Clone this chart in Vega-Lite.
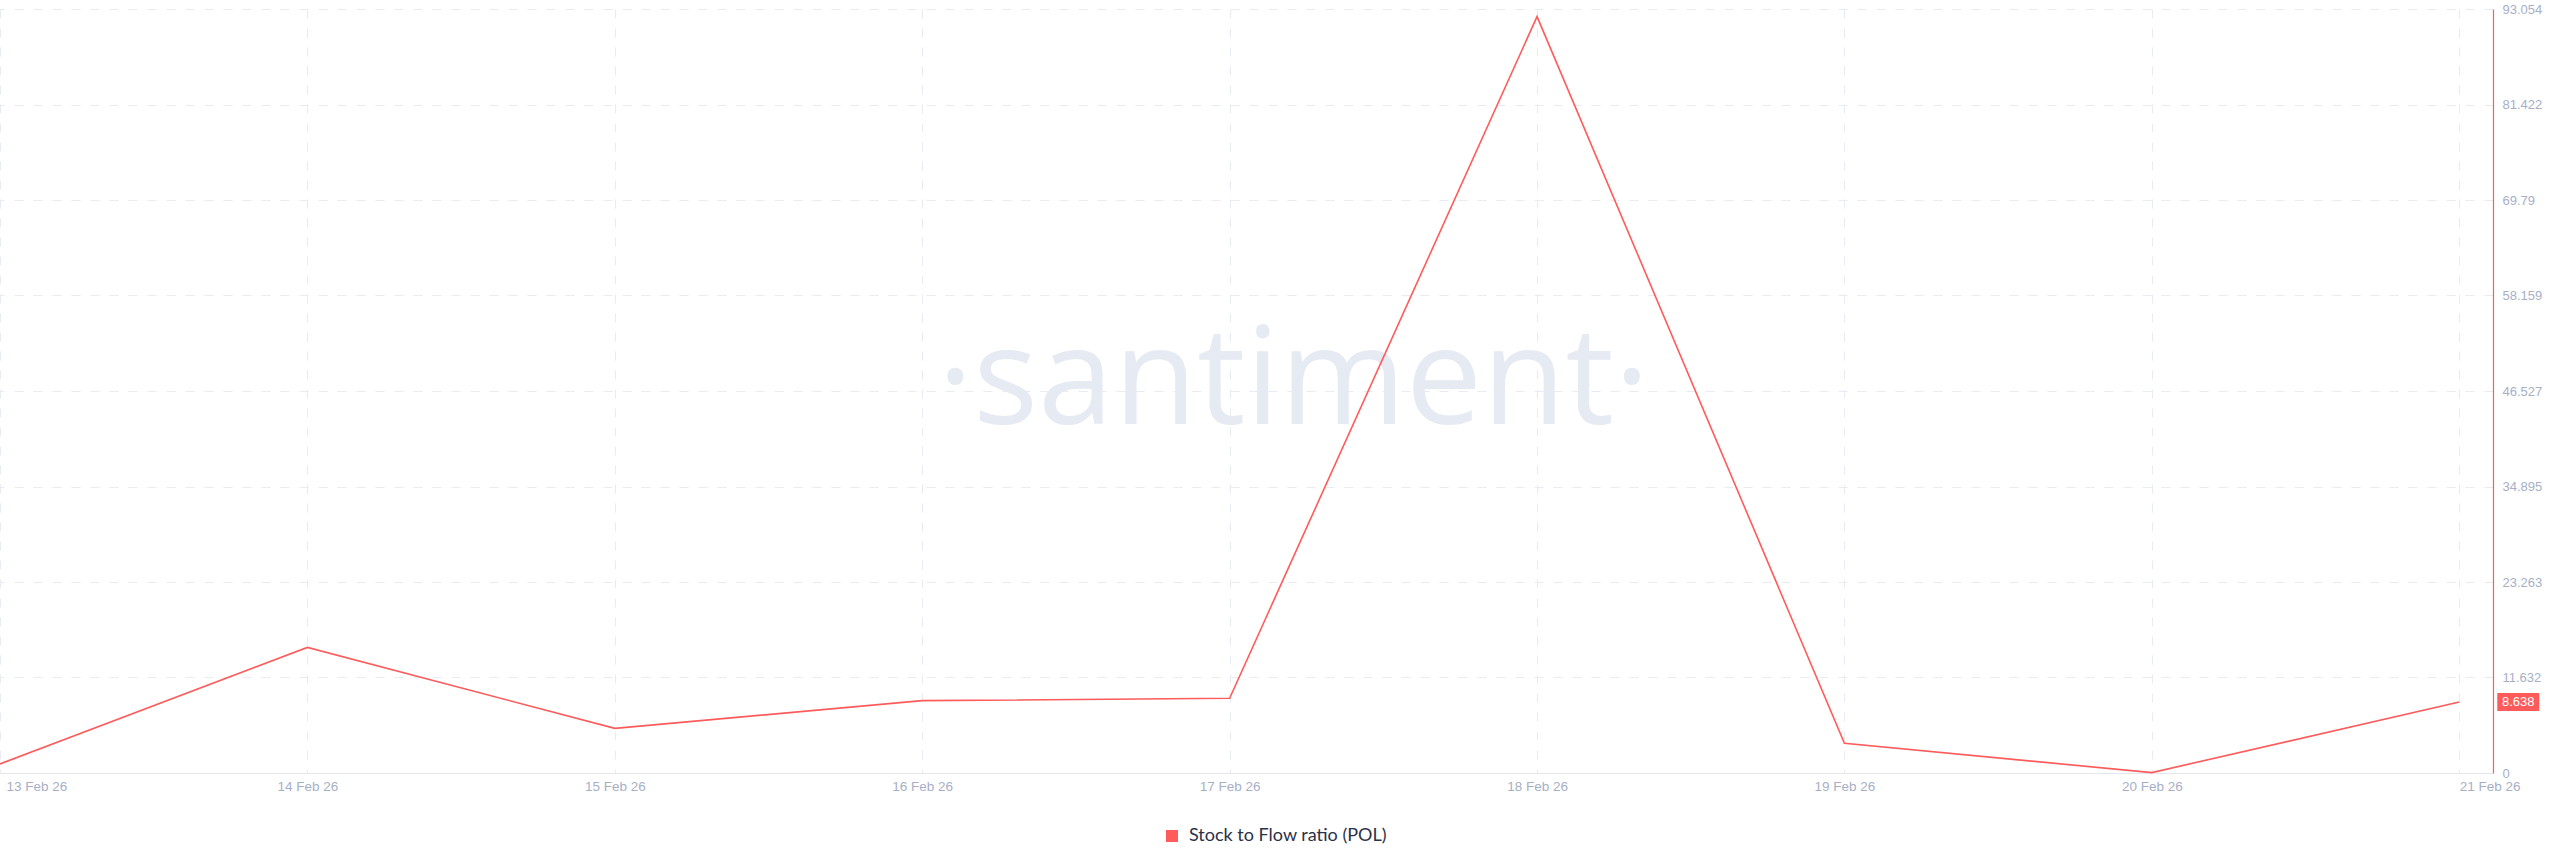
{
  "$schema": "https://vega.github.io/schema/vega-lite/v6.json",
  "width": 2493,
  "height": 764,
  "autosize": {"type": "none"},
  "padding": {"left": 0, "top": 9, "right": 67, "bottom": 94},
  "background": "#ffffff",
  "config": {"view": {"stroke": null}},
  "datasets": {
    "sf": [
      {"date": "2026-02-13", "value": 1.1, "series": "Stock to Flow ratio (POL)"},
      {"date": "2026-02-14", "value": 15.3, "series": "Stock to Flow ratio (POL)"},
      {"date": "2026-02-15", "value": 5.44, "series": "Stock to Flow ratio (POL)"},
      {"date": "2026-02-16", "value": 8.81, "series": "Stock to Flow ratio (POL)"},
      {"date": "2026-02-17", "value": 9.1, "series": "Stock to Flow ratio (POL)"},
      {"date": "2026-02-18", "value": 92.13, "series": "Stock to Flow ratio (POL)"},
      {"date": "2026-02-19", "value": 3.62, "series": "Stock to Flow ratio (POL)"},
      {"date": "2026-02-20", "value": 0.05, "series": "Stock to Flow ratio (POL)"},
      {"date": "2026-02-21", "value": 8.638, "series": "Stock to Flow ratio (POL)"}
    ],
    "wm": [{"text": "·santiment·"}]
  },
  "layer": [
    {
      "data": {"name": "wm"},
      "mark": {"type": "text", "font": "Open Sans", "fontSize": 136, "color": "#e6eaf3", "align": "center", "baseline": "alphabetic"},
      "encoding": {
        "x": {"datum": {"year": 2026, "month": 2, "date": 17, "hours": 5, "utc": true}, "type": "temporal"},
        "y": {"datum": 42.5, "type": "quantitative"},
        "text": {"field": "text"}
      }
    },
    {
      "data": {"name": "sf"},
      "mark": {"type": "line", "strokeWidth": 1.6, "clip": false},
      "encoding": {
        "x": {
          "field": "date", "type": "temporal",
          "scale": {"type": "utc", "domain": [{"year": 2026, "month": 2, "date": 13, "utc": true}, {"year": 2026, "month": 2, "date": 21, "hours": 2, "minutes": 38, "utc": true}]},
          "axis": {
            "title": null,
            "format": "%d %b %y",
            "values": [
              {"year": 2026, "month": 2, "date": 13, "utc": true},
              {"year": 2026, "month": 2, "date": 14, "utc": true},
              {"year": 2026, "month": 2, "date": 15, "utc": true},
              {"year": 2026, "month": 2, "date": 16, "utc": true},
              {"year": 2026, "month": 2, "date": 17, "utc": true},
              {"year": 2026, "month": 2, "date": 18, "utc": true},
              {"year": 2026, "month": 2, "date": 19, "utc": true},
              {"year": 2026, "month": 2, "date": 20, "utc": true},
              {"year": 2026, "month": 2, "date": 21, "utc": true}
            ],
            "grid": true, "gridColor": "#e9ebf2", "gridDash": [9, 10], "gridWidth": 1,
            "ticks": false,
            "domainColor": "#e3e6ee", "domainWidth": 1,
            "labelColor": "#a7afc7", "labelFont": "Liberation Sans", "labelFontSize": 13.5,
            "labelPadding": 6, "labelFlush": false, "labelOverlap": false,
            "labelAlign": {"condition": {"test": "datum.index == 0 || datum.index == 1", "value": "left"}, "value": "center"},
            "labelOffset": {"condition": {"test": "datum.index == 0", "value": 6}, "value": 0}
          }
        },
        "y": {
          "field": "value", "type": "quantitative",
          "scale": {"domain": [0, 93.054], "nice": false},
          "axis": {
            "title": null, "orient": "right",
            "values": [0, 11.632, 23.263, 34.895, 46.527, 58.159, 69.79, 81.422, 93.054],
            "labelExpr": "toString(datum.value)",
            "grid": true, "gridColor": "#e9ebf2", "gridDash": [9, 10], "gridWidth": 1,
            "ticks": false,
            "domainColor": "#ff5b5b", "domainWidth": 1.2,
            "labelColor": "#a7afc7", "labelFont": "Liberation Sans", "labelFontSize": 13,
            "labelPadding": 9
          }
        },
        "color": {
          "field": "series", "type": "nominal",
          "scale": {"domain": ["Stock to Flow ratio (POL)"], "range": ["#ff5b5b"]},
          "legend": {
            "title": null, "orient": "none", "legendX": 1163, "legendY": 818,
            "padding": 0, "labelLimit": 500,
            "symbolType": "square", "symbolSize": 144, "symbolFillColor": "#ff5b5b", "symbolStrokeWidth": 0,
            "labelFont": "Lato", "labelFontSize": 18, "labelColor": "#2b3148", "labelOffset": 8
          }
        }
      }
    },
    {
      "data": {"name": "sf"},
      "transform": [{"filter": "datum.value == 8.638"}],
      "mark": {"type": "rect", "color": "#ff5b5b", "width": 42, "height": 18, "xOffset": 59, "clip": false},
      "encoding": {
        "x": {"field": "date", "type": "temporal"},
        "y": {"field": "value", "type": "quantitative"}
      }
    },
    {
      "data": {"name": "sf"},
      "transform": [{"filter": "datum.value == 8.638"}],
      "mark": {"type": "text", "color": "#ffffff", "font": "Liberation Sans", "fontSize": 13, "align": "center", "baseline": "middle", "dx": 59, "clip": false},
      "encoding": {
        "x": {"field": "date", "type": "temporal"},
        "y": {"field": "value", "type": "quantitative"},
        "text": {"field": "value", "type": "quantitative", "format": ".3f"}
      }
    }
  ]
}
